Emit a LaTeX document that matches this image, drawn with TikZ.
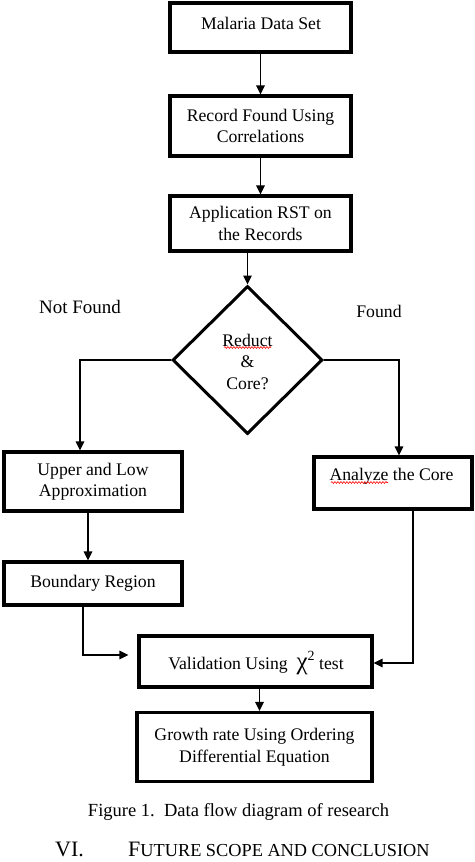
\documentclass[tikz,border=0pt]{standalone}
\usepackage{fontspec}
\setmainfont{Liberation Serif}
\usetikzlibrary{shapes.geometric,arrows.meta,decorations.pathmorphing}
\begin{document}
\begin{tikzpicture}[x=1pt,y=-1pt,
  flowbox/.style={draw,line width=3.2pt,inner sep=0pt,align=center,font=\fontsize{17.7}{21.5}\selectfont},
  txt/.style={inner sep=0pt,align=center,font=\fontsize{17.7}{21.5}\selectfont},
  decision/.style={diamond,draw,line width=3pt,inner sep=0pt,aspect=1},
  conn/.style={line width=1.4pt,-{Triangle[length=9pt,width=8.5pt]}},
  squig/.style={red,line width=0.6pt,decorate,decoration={snake,amplitude=0.9pt,segment length=3pt}}
]
\useasboundingbox (0,0) rectangle (474,862);
\fill[white] (0,0) rectangle (474,862);

% boxes
\node[flowbox, minimum width=181pt, minimum height=49pt] (b1) at (260.5,27.5) {};
\node[txt] (t1) at (261,23) {Malaria Data Set};
\node[flowbox, minimum width=181pt, minimum height=60pt] (b2) at (260.5,126) {Record Found Using\\Correlations};
\node[flowbox, minimum width=181pt, minimum height=55pt] (b3) at (260.5,223.5) {Application RST on\\the Records};
\node[decision, minimum width=150pt, minimum height=148pt] (d) at (247.5,360) {};
\node[txt] (dt) at (247.5,361.5) {Reduct\\\&\\Core?};
\node[flowbox, minimum width=178pt, minimum height=59pt] (b4) at (93,481.5) {Upper and Low\\Approximation};
\node[flowbox, minimum width=158pt, minimum height=52pt] (b5) at (393,483) {};
\node[txt] (t5) at (391.5,476) {Analyze the Core};
\node[flowbox, minimum width=178pt, minimum height=43pt] (b6) at (93,583.5) {Boundary Region};
\node[flowbox, minimum width=233pt, minimum height=51pt] (b7) at (255.5,661.5) {};
\node[txt] (t7) at (256,663) {Validation Using\ \ {\fontsize{25}{25}\selectfont χ}\raisebox{9pt}{\fontsize{14}{14}\selectfont 2}\ test};
\node[flowbox, minimum width=235pt, minimum height=69pt] (b8) at (254.5,747) {Growth rate Using Ordering\\Differential Equation};

% labels
\node[txt, font=\fontsize{19}{22}\selectfont] (nf) at (80,307) {Not Found};
\node[txt] (fd) at (379,311) {Found};

% spell-check squiggles
\draw[squig] (224,347.5) -- (271,347.5);
\draw[squig] (331,482.5) -- (388,482.5);

% connectors
\draw[conn] (b1.south) -- (b2.north);
\draw[conn] (b2.south) -- (b3.north);
\draw[conn] (d.north |- b3.south) -- (d.north);
\draw[conn] (d.west) -| ([xshift=-13pt]b4.north);
\draw[conn] (d.east) -| ([xshift=6pt]b5.north);
\draw[conn] ([xshift=-5pt]b4.south) -- ([xshift=-5pt]b6.north);
\draw[conn] ([xshift=-10pt]b6.south) |- ([yshift=6.5pt,xshift=-9pt]b7.west);
\draw[conn] ([xshift=20pt]b5.south) |- ([yshift=-1.5pt]b7.east);
\draw[conn] ([xshift=4pt]b7.south) -- ([xshift=5pt]b8.north);

% caption and heading
\node[txt, font=\fontsize{18.5}{22}\selectfont] (cap) at (238.5,812) {Figure 1.\ \ Data flow diagram of research};
\node[anchor=base west, inner sep=0pt, font=\fontsize{22}{26}\selectfont] (vi) at (55,856) {VI.};
\node[anchor=base west, inner sep=0pt, font=\fontsize{22}{26}\selectfont] (fs) at (128,856) {F{\fontsize{18.3}{20}\selectfont UTURE SCOPE AND CONCLUSION}};
\end{tikzpicture}
\end{document}
